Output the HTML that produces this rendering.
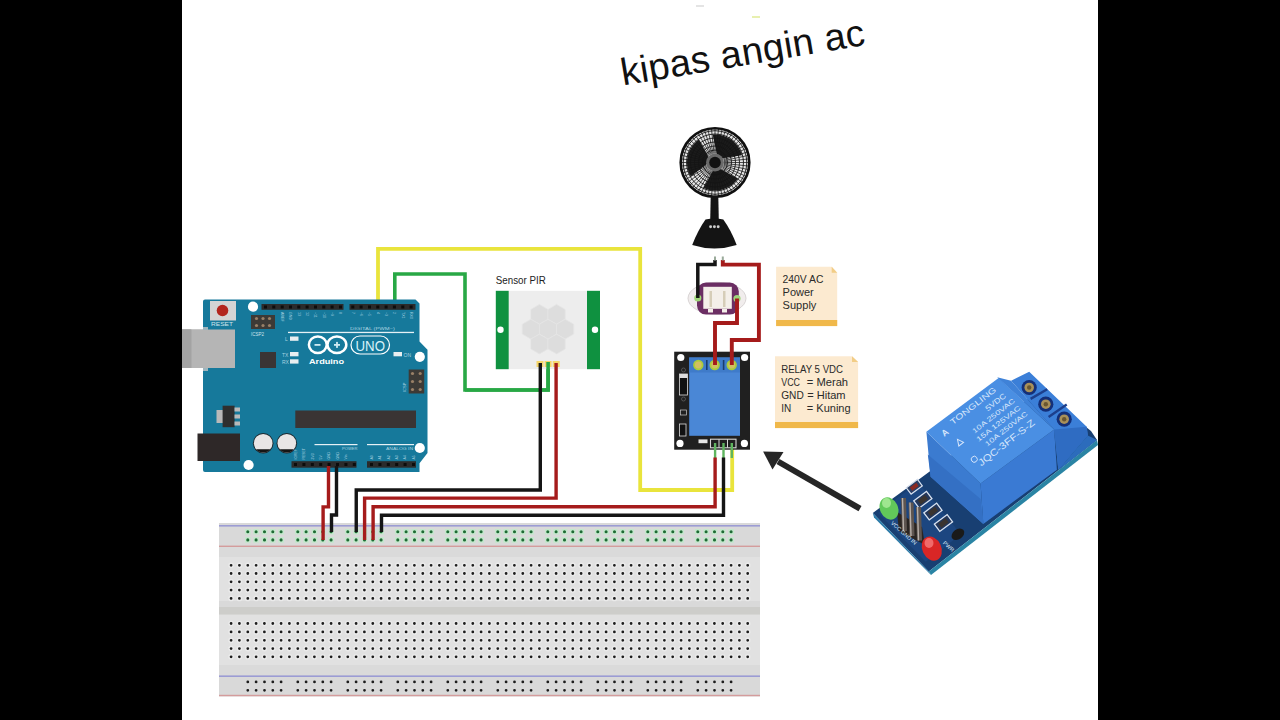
<!DOCTYPE html>
<html><head><meta charset="utf-8"><style>
html,body{margin:0;padding:0;background:#000;width:1280px;height:720px;overflow:hidden}
svg{display:block;position:absolute;left:0;top:0}
text{font-family:"Liberation Sans",sans-serif}
</style></head><body>
<svg width="1280" height="720" viewBox="0 0 1280 720">
<rect x="0" y="0" width="1280" height="720" fill="#000"/>
<rect x="182" y="0" width="916" height="720" fill="#ffffff"/>
<path d="M378 307 V248.9 H640.2 V490 H732.2 V449" fill="none" stroke="#e9e43c" stroke-width="3.8" stroke-linejoin="miter"/>
<path d="M394.8 307 V274 H465 V390 H548.1 V362" fill="none" stroke="#28a845" stroke-width="3.6"/>
<g id="bb">
<rect x="219" y="523" width="541" height="173.5" fill="#dcdcdc"/>
<rect x="219" y="523" width="541" height="24" fill="#d9d9d9"/>
<rect x="219" y="676" width="541" height="20" fill="#d9d9d9"/>
<rect x="219" y="547" width="541" height="56" fill="#e1e1e1"/>
<rect x="219" y="614.5" width="541" height="61" fill="#e1e1e1"/>
<rect x="219" y="601" width="541" height="6.5" fill="#d9d9d9"/><rect x="219" y="607" width="541" height="7.5" fill="#cdcdca"/>
<rect x="219" y="547" width="541" height="10" fill="#dadada"/>
<rect x="219" y="665" width="541" height="11" fill="#dadada"/>
<rect x="219" y="525" width="541" height="1.6" fill="#9c9cd4"/>
<rect x="219" y="545.6" width="541" height="1.4" fill="#d49c9c"/>
<rect x="219" y="675.4" width="541" height="1.6" fill="#9c9cd4"/>
<rect x="219" y="694.8" width="541" height="1.4" fill="#d49c9c"/>
<path d="M231.1 565.3h0M239.4 565.3h0M247.8 565.3h0M256.1 565.3h0M264.4 565.3h0M272.8 565.3h0M281.1 565.3h0M289.4 565.3h0M297.8 565.3h0M306.1 565.3h0M314.4 565.3h0M322.8 565.3h0M331.1 565.3h0M339.4 565.3h0M347.8 565.3h0M356.1 565.3h0M364.4 565.3h0M372.8 565.3h0M381.1 565.3h0M389.4 565.3h0M397.8 565.3h0M406.1 565.3h0M414.4 565.3h0M422.8 565.3h0M431.1 565.3h0M439.4 565.3h0M447.8 565.3h0M456.1 565.3h0M464.4 565.3h0M472.8 565.3h0M481.1 565.3h0M489.4 565.3h0M497.8 565.3h0M506.1 565.3h0M514.4 565.3h0M522.8 565.3h0M531.1 565.3h0M539.4 565.3h0M547.8 565.3h0M556.1 565.3h0M564.4 565.3h0M572.8 565.3h0M581.1 565.3h0M589.4 565.3h0M597.8 565.3h0M606.1 565.3h0M614.4 565.3h0M622.8 565.3h0M631.1 565.3h0M639.4 565.3h0M647.8 565.3h0M656.1 565.3h0M664.4 565.3h0M672.7 565.3h0M681.1 565.3h0M689.4 565.3h0M697.7 565.3h0M706.1 565.3h0M714.4 565.3h0M722.7 565.3h0M731.1 565.3h0M739.4 565.3h0M747.7 565.3h0M231.1 573.5h0M239.4 573.5h0M247.8 573.5h0M256.1 573.5h0M264.4 573.5h0M272.8 573.5h0M281.1 573.5h0M289.4 573.5h0M297.8 573.5h0M306.1 573.5h0M314.4 573.5h0M322.8 573.5h0M331.1 573.5h0M339.4 573.5h0M347.8 573.5h0M356.1 573.5h0M364.4 573.5h0M372.8 573.5h0M381.1 573.5h0M389.4 573.5h0M397.8 573.5h0M406.1 573.5h0M414.4 573.5h0M422.8 573.5h0M431.1 573.5h0M439.4 573.5h0M447.8 573.5h0M456.1 573.5h0M464.4 573.5h0M472.8 573.5h0M481.1 573.5h0M489.4 573.5h0M497.8 573.5h0M506.1 573.5h0M514.4 573.5h0M522.8 573.5h0M531.1 573.5h0M539.4 573.5h0M547.8 573.5h0M556.1 573.5h0M564.4 573.5h0M572.8 573.5h0M581.1 573.5h0M589.4 573.5h0M597.8 573.5h0M606.1 573.5h0M614.4 573.5h0M622.8 573.5h0M631.1 573.5h0M639.4 573.5h0M647.8 573.5h0M656.1 573.5h0M664.4 573.5h0M672.7 573.5h0M681.1 573.5h0M689.4 573.5h0M697.7 573.5h0M706.1 573.5h0M714.4 573.5h0M722.7 573.5h0M731.1 573.5h0M739.4 573.5h0M747.7 573.5h0M231.1 581.8h0M239.4 581.8h0M247.8 581.8h0M256.1 581.8h0M264.4 581.8h0M272.8 581.8h0M281.1 581.8h0M289.4 581.8h0M297.8 581.8h0M306.1 581.8h0M314.4 581.8h0M322.8 581.8h0M331.1 581.8h0M339.4 581.8h0M347.8 581.8h0M356.1 581.8h0M364.4 581.8h0M372.8 581.8h0M381.1 581.8h0M389.4 581.8h0M397.8 581.8h0M406.1 581.8h0M414.4 581.8h0M422.8 581.8h0M431.1 581.8h0M439.4 581.8h0M447.8 581.8h0M456.1 581.8h0M464.4 581.8h0M472.8 581.8h0M481.1 581.8h0M489.4 581.8h0M497.8 581.8h0M506.1 581.8h0M514.4 581.8h0M522.8 581.8h0M531.1 581.8h0M539.4 581.8h0M547.8 581.8h0M556.1 581.8h0M564.4 581.8h0M572.8 581.8h0M581.1 581.8h0M589.4 581.8h0M597.8 581.8h0M606.1 581.8h0M614.4 581.8h0M622.8 581.8h0M631.1 581.8h0M639.4 581.8h0M647.8 581.8h0M656.1 581.8h0M664.4 581.8h0M672.7 581.8h0M681.1 581.8h0M689.4 581.8h0M697.7 581.8h0M706.1 581.8h0M714.4 581.8h0M722.7 581.8h0M731.1 581.8h0M739.4 581.8h0M747.7 581.8h0M231.1 590.1h0M239.4 590.1h0M247.8 590.1h0M256.1 590.1h0M264.4 590.1h0M272.8 590.1h0M281.1 590.1h0M289.4 590.1h0M297.8 590.1h0M306.1 590.1h0M314.4 590.1h0M322.8 590.1h0M331.1 590.1h0M339.4 590.1h0M347.8 590.1h0M356.1 590.1h0M364.4 590.1h0M372.8 590.1h0M381.1 590.1h0M389.4 590.1h0M397.8 590.1h0M406.1 590.1h0M414.4 590.1h0M422.8 590.1h0M431.1 590.1h0M439.4 590.1h0M447.8 590.1h0M456.1 590.1h0M464.4 590.1h0M472.8 590.1h0M481.1 590.1h0M489.4 590.1h0M497.8 590.1h0M506.1 590.1h0M514.4 590.1h0M522.8 590.1h0M531.1 590.1h0M539.4 590.1h0M547.8 590.1h0M556.1 590.1h0M564.4 590.1h0M572.8 590.1h0M581.1 590.1h0M589.4 590.1h0M597.8 590.1h0M606.1 590.1h0M614.4 590.1h0M622.8 590.1h0M631.1 590.1h0M639.4 590.1h0M647.8 590.1h0M656.1 590.1h0M664.4 590.1h0M672.7 590.1h0M681.1 590.1h0M689.4 590.1h0M697.7 590.1h0M706.1 590.1h0M714.4 590.1h0M722.7 590.1h0M731.1 590.1h0M739.4 590.1h0M747.7 590.1h0M231.1 598.4h0M239.4 598.4h0M247.8 598.4h0M256.1 598.4h0M264.4 598.4h0M272.8 598.4h0M281.1 598.4h0M289.4 598.4h0M297.8 598.4h0M306.1 598.4h0M314.4 598.4h0M322.8 598.4h0M331.1 598.4h0M339.4 598.4h0M347.8 598.4h0M356.1 598.4h0M364.4 598.4h0M372.8 598.4h0M381.1 598.4h0M389.4 598.4h0M397.8 598.4h0M406.1 598.4h0M414.4 598.4h0M422.8 598.4h0M431.1 598.4h0M439.4 598.4h0M447.8 598.4h0M456.1 598.4h0M464.4 598.4h0M472.8 598.4h0M481.1 598.4h0M489.4 598.4h0M497.8 598.4h0M506.1 598.4h0M514.4 598.4h0M522.8 598.4h0M531.1 598.4h0M539.4 598.4h0M547.8 598.4h0M556.1 598.4h0M564.4 598.4h0M572.8 598.4h0M581.1 598.4h0M589.4 598.4h0M597.8 598.4h0M606.1 598.4h0M614.4 598.4h0M622.8 598.4h0M631.1 598.4h0M639.4 598.4h0M647.8 598.4h0M656.1 598.4h0M664.4 598.4h0M672.7 598.4h0M681.1 598.4h0M689.4 598.4h0M697.7 598.4h0M706.1 598.4h0M714.4 598.4h0M722.7 598.4h0M731.1 598.4h0M739.4 598.4h0M747.7 598.4h0M231.1 623.5h0M239.4 623.5h0M247.8 623.5h0M256.1 623.5h0M264.4 623.5h0M272.8 623.5h0M281.1 623.5h0M289.4 623.5h0M297.8 623.5h0M306.1 623.5h0M314.4 623.5h0M322.8 623.5h0M331.1 623.5h0M339.4 623.5h0M347.8 623.5h0M356.1 623.5h0M364.4 623.5h0M372.8 623.5h0M381.1 623.5h0M389.4 623.5h0M397.8 623.5h0M406.1 623.5h0M414.4 623.5h0M422.8 623.5h0M431.1 623.5h0M439.4 623.5h0M447.8 623.5h0M456.1 623.5h0M464.4 623.5h0M472.8 623.5h0M481.1 623.5h0M489.4 623.5h0M497.8 623.5h0M506.1 623.5h0M514.4 623.5h0M522.8 623.5h0M531.1 623.5h0M539.4 623.5h0M547.8 623.5h0M556.1 623.5h0M564.4 623.5h0M572.8 623.5h0M581.1 623.5h0M589.4 623.5h0M597.8 623.5h0M606.1 623.5h0M614.4 623.5h0M622.8 623.5h0M631.1 623.5h0M639.4 623.5h0M647.8 623.5h0M656.1 623.5h0M664.4 623.5h0M672.7 623.5h0M681.1 623.5h0M689.4 623.5h0M697.7 623.5h0M706.1 623.5h0M714.4 623.5h0M722.7 623.5h0M731.1 623.5h0M739.4 623.5h0M747.7 623.5h0M231.1 631.9h0M239.4 631.9h0M247.8 631.9h0M256.1 631.9h0M264.4 631.9h0M272.8 631.9h0M281.1 631.9h0M289.4 631.9h0M297.8 631.9h0M306.1 631.9h0M314.4 631.9h0M322.8 631.9h0M331.1 631.9h0M339.4 631.9h0M347.8 631.9h0M356.1 631.9h0M364.4 631.9h0M372.8 631.9h0M381.1 631.9h0M389.4 631.9h0M397.8 631.9h0M406.1 631.9h0M414.4 631.9h0M422.8 631.9h0M431.1 631.9h0M439.4 631.9h0M447.8 631.9h0M456.1 631.9h0M464.4 631.9h0M472.8 631.9h0M481.1 631.9h0M489.4 631.9h0M497.8 631.9h0M506.1 631.9h0M514.4 631.9h0M522.8 631.9h0M531.1 631.9h0M539.4 631.9h0M547.8 631.9h0M556.1 631.9h0M564.4 631.9h0M572.8 631.9h0M581.1 631.9h0M589.4 631.9h0M597.8 631.9h0M606.1 631.9h0M614.4 631.9h0M622.8 631.9h0M631.1 631.9h0M639.4 631.9h0M647.8 631.9h0M656.1 631.9h0M664.4 631.9h0M672.7 631.9h0M681.1 631.9h0M689.4 631.9h0M697.7 631.9h0M706.1 631.9h0M714.4 631.9h0M722.7 631.9h0M731.1 631.9h0M739.4 631.9h0M747.7 631.9h0M231.1 640.3h0M239.4 640.3h0M247.8 640.3h0M256.1 640.3h0M264.4 640.3h0M272.8 640.3h0M281.1 640.3h0M289.4 640.3h0M297.8 640.3h0M306.1 640.3h0M314.4 640.3h0M322.8 640.3h0M331.1 640.3h0M339.4 640.3h0M347.8 640.3h0M356.1 640.3h0M364.4 640.3h0M372.8 640.3h0M381.1 640.3h0M389.4 640.3h0M397.8 640.3h0M406.1 640.3h0M414.4 640.3h0M422.8 640.3h0M431.1 640.3h0M439.4 640.3h0M447.8 640.3h0M456.1 640.3h0M464.4 640.3h0M472.8 640.3h0M481.1 640.3h0M489.4 640.3h0M497.8 640.3h0M506.1 640.3h0M514.4 640.3h0M522.8 640.3h0M531.1 640.3h0M539.4 640.3h0M547.8 640.3h0M556.1 640.3h0M564.4 640.3h0M572.8 640.3h0M581.1 640.3h0M589.4 640.3h0M597.8 640.3h0M606.1 640.3h0M614.4 640.3h0M622.8 640.3h0M631.1 640.3h0M639.4 640.3h0M647.8 640.3h0M656.1 640.3h0M664.4 640.3h0M672.7 640.3h0M681.1 640.3h0M689.4 640.3h0M697.7 640.3h0M706.1 640.3h0M714.4 640.3h0M722.7 640.3h0M731.1 640.3h0M739.4 640.3h0M747.7 640.3h0M231.1 648.6h0M239.4 648.6h0M247.8 648.6h0M256.1 648.6h0M264.4 648.6h0M272.8 648.6h0M281.1 648.6h0M289.4 648.6h0M297.8 648.6h0M306.1 648.6h0M314.4 648.6h0M322.8 648.6h0M331.1 648.6h0M339.4 648.6h0M347.8 648.6h0M356.1 648.6h0M364.4 648.6h0M372.8 648.6h0M381.1 648.6h0M389.4 648.6h0M397.8 648.6h0M406.1 648.6h0M414.4 648.6h0M422.8 648.6h0M431.1 648.6h0M439.4 648.6h0M447.8 648.6h0M456.1 648.6h0M464.4 648.6h0M472.8 648.6h0M481.1 648.6h0M489.4 648.6h0M497.8 648.6h0M506.1 648.6h0M514.4 648.6h0M522.8 648.6h0M531.1 648.6h0M539.4 648.6h0M547.8 648.6h0M556.1 648.6h0M564.4 648.6h0M572.8 648.6h0M581.1 648.6h0M589.4 648.6h0M597.8 648.6h0M606.1 648.6h0M614.4 648.6h0M622.8 648.6h0M631.1 648.6h0M639.4 648.6h0M647.8 648.6h0M656.1 648.6h0M664.4 648.6h0M672.7 648.6h0M681.1 648.6h0M689.4 648.6h0M697.7 648.6h0M706.1 648.6h0M714.4 648.6h0M722.7 648.6h0M731.1 648.6h0M739.4 648.6h0M747.7 648.6h0M231.1 656.8h0M239.4 656.8h0M247.8 656.8h0M256.1 656.8h0M264.4 656.8h0M272.8 656.8h0M281.1 656.8h0M289.4 656.8h0M297.8 656.8h0M306.1 656.8h0M314.4 656.8h0M322.8 656.8h0M331.1 656.8h0M339.4 656.8h0M347.8 656.8h0M356.1 656.8h0M364.4 656.8h0M372.8 656.8h0M381.1 656.8h0M389.4 656.8h0M397.8 656.8h0M406.1 656.8h0M414.4 656.8h0M422.8 656.8h0M431.1 656.8h0M439.4 656.8h0M447.8 656.8h0M456.1 656.8h0M464.4 656.8h0M472.8 656.8h0M481.1 656.8h0M489.4 656.8h0M497.8 656.8h0M506.1 656.8h0M514.4 656.8h0M522.8 656.8h0M531.1 656.8h0M539.4 656.8h0M547.8 656.8h0M556.1 656.8h0M564.4 656.8h0M572.8 656.8h0M581.1 656.8h0M589.4 656.8h0M597.8 656.8h0M606.1 656.8h0M614.4 656.8h0M622.8 656.8h0M631.1 656.8h0M639.4 656.8h0M647.8 656.8h0M656.1 656.8h0M664.4 656.8h0M672.7 656.8h0M681.1 656.8h0M689.4 656.8h0M697.7 656.8h0M706.1 656.8h0M714.4 656.8h0M722.7 656.8h0M731.1 656.8h0M739.4 656.8h0M747.7 656.8h0" stroke="#ebebeb" stroke-width="5.6" stroke-linecap="round"/>
<path d="M231.1 565.3h0M239.4 565.3h0M247.8 565.3h0M256.1 565.3h0M264.4 565.3h0M272.8 565.3h0M281.1 565.3h0M289.4 565.3h0M297.8 565.3h0M306.1 565.3h0M314.4 565.3h0M322.8 565.3h0M331.1 565.3h0M339.4 565.3h0M347.8 565.3h0M356.1 565.3h0M364.4 565.3h0M372.8 565.3h0M381.1 565.3h0M389.4 565.3h0M397.8 565.3h0M406.1 565.3h0M414.4 565.3h0M422.8 565.3h0M431.1 565.3h0M439.4 565.3h0M447.8 565.3h0M456.1 565.3h0M464.4 565.3h0M472.8 565.3h0M481.1 565.3h0M489.4 565.3h0M497.8 565.3h0M506.1 565.3h0M514.4 565.3h0M522.8 565.3h0M531.1 565.3h0M539.4 565.3h0M547.8 565.3h0M556.1 565.3h0M564.4 565.3h0M572.8 565.3h0M581.1 565.3h0M589.4 565.3h0M597.8 565.3h0M606.1 565.3h0M614.4 565.3h0M622.8 565.3h0M631.1 565.3h0M639.4 565.3h0M647.8 565.3h0M656.1 565.3h0M664.4 565.3h0M672.7 565.3h0M681.1 565.3h0M689.4 565.3h0M697.7 565.3h0M706.1 565.3h0M714.4 565.3h0M722.7 565.3h0M731.1 565.3h0M739.4 565.3h0M747.7 565.3h0M231.1 573.5h0M239.4 573.5h0M247.8 573.5h0M256.1 573.5h0M264.4 573.5h0M272.8 573.5h0M281.1 573.5h0M289.4 573.5h0M297.8 573.5h0M306.1 573.5h0M314.4 573.5h0M322.8 573.5h0M331.1 573.5h0M339.4 573.5h0M347.8 573.5h0M356.1 573.5h0M364.4 573.5h0M372.8 573.5h0M381.1 573.5h0M389.4 573.5h0M397.8 573.5h0M406.1 573.5h0M414.4 573.5h0M422.8 573.5h0M431.1 573.5h0M439.4 573.5h0M447.8 573.5h0M456.1 573.5h0M464.4 573.5h0M472.8 573.5h0M481.1 573.5h0M489.4 573.5h0M497.8 573.5h0M506.1 573.5h0M514.4 573.5h0M522.8 573.5h0M531.1 573.5h0M539.4 573.5h0M547.8 573.5h0M556.1 573.5h0M564.4 573.5h0M572.8 573.5h0M581.1 573.5h0M589.4 573.5h0M597.8 573.5h0M606.1 573.5h0M614.4 573.5h0M622.8 573.5h0M631.1 573.5h0M639.4 573.5h0M647.8 573.5h0M656.1 573.5h0M664.4 573.5h0M672.7 573.5h0M681.1 573.5h0M689.4 573.5h0M697.7 573.5h0M706.1 573.5h0M714.4 573.5h0M722.7 573.5h0M731.1 573.5h0M739.4 573.5h0M747.7 573.5h0M231.1 581.8h0M239.4 581.8h0M247.8 581.8h0M256.1 581.8h0M264.4 581.8h0M272.8 581.8h0M281.1 581.8h0M289.4 581.8h0M297.8 581.8h0M306.1 581.8h0M314.4 581.8h0M322.8 581.8h0M331.1 581.8h0M339.4 581.8h0M347.8 581.8h0M356.1 581.8h0M364.4 581.8h0M372.8 581.8h0M381.1 581.8h0M389.4 581.8h0M397.8 581.8h0M406.1 581.8h0M414.4 581.8h0M422.8 581.8h0M431.1 581.8h0M439.4 581.8h0M447.8 581.8h0M456.1 581.8h0M464.4 581.8h0M472.8 581.8h0M481.1 581.8h0M489.4 581.8h0M497.8 581.8h0M506.1 581.8h0M514.4 581.8h0M522.8 581.8h0M531.1 581.8h0M539.4 581.8h0M547.8 581.8h0M556.1 581.8h0M564.4 581.8h0M572.8 581.8h0M581.1 581.8h0M589.4 581.8h0M597.8 581.8h0M606.1 581.8h0M614.4 581.8h0M622.8 581.8h0M631.1 581.8h0M639.4 581.8h0M647.8 581.8h0M656.1 581.8h0M664.4 581.8h0M672.7 581.8h0M681.1 581.8h0M689.4 581.8h0M697.7 581.8h0M706.1 581.8h0M714.4 581.8h0M722.7 581.8h0M731.1 581.8h0M739.4 581.8h0M747.7 581.8h0M231.1 590.1h0M239.4 590.1h0M247.8 590.1h0M256.1 590.1h0M264.4 590.1h0M272.8 590.1h0M281.1 590.1h0M289.4 590.1h0M297.8 590.1h0M306.1 590.1h0M314.4 590.1h0M322.8 590.1h0M331.1 590.1h0M339.4 590.1h0M347.8 590.1h0M356.1 590.1h0M364.4 590.1h0M372.8 590.1h0M381.1 590.1h0M389.4 590.1h0M397.8 590.1h0M406.1 590.1h0M414.4 590.1h0M422.8 590.1h0M431.1 590.1h0M439.4 590.1h0M447.8 590.1h0M456.1 590.1h0M464.4 590.1h0M472.8 590.1h0M481.1 590.1h0M489.4 590.1h0M497.8 590.1h0M506.1 590.1h0M514.4 590.1h0M522.8 590.1h0M531.1 590.1h0M539.4 590.1h0M547.8 590.1h0M556.1 590.1h0M564.4 590.1h0M572.8 590.1h0M581.1 590.1h0M589.4 590.1h0M597.8 590.1h0M606.1 590.1h0M614.4 590.1h0M622.8 590.1h0M631.1 590.1h0M639.4 590.1h0M647.8 590.1h0M656.1 590.1h0M664.4 590.1h0M672.7 590.1h0M681.1 590.1h0M689.4 590.1h0M697.7 590.1h0M706.1 590.1h0M714.4 590.1h0M722.7 590.1h0M731.1 590.1h0M739.4 590.1h0M747.7 590.1h0M231.1 598.4h0M239.4 598.4h0M247.8 598.4h0M256.1 598.4h0M264.4 598.4h0M272.8 598.4h0M281.1 598.4h0M289.4 598.4h0M297.8 598.4h0M306.1 598.4h0M314.4 598.4h0M322.8 598.4h0M331.1 598.4h0M339.4 598.4h0M347.8 598.4h0M356.1 598.4h0M364.4 598.4h0M372.8 598.4h0M381.1 598.4h0M389.4 598.4h0M397.8 598.4h0M406.1 598.4h0M414.4 598.4h0M422.8 598.4h0M431.1 598.4h0M439.4 598.4h0M447.8 598.4h0M456.1 598.4h0M464.4 598.4h0M472.8 598.4h0M481.1 598.4h0M489.4 598.4h0M497.8 598.4h0M506.1 598.4h0M514.4 598.4h0M522.8 598.4h0M531.1 598.4h0M539.4 598.4h0M547.8 598.4h0M556.1 598.4h0M564.4 598.4h0M572.8 598.4h0M581.1 598.4h0M589.4 598.4h0M597.8 598.4h0M606.1 598.4h0M614.4 598.4h0M622.8 598.4h0M631.1 598.4h0M639.4 598.4h0M647.8 598.4h0M656.1 598.4h0M664.4 598.4h0M672.7 598.4h0M681.1 598.4h0M689.4 598.4h0M697.7 598.4h0M706.1 598.4h0M714.4 598.4h0M722.7 598.4h0M731.1 598.4h0M739.4 598.4h0M747.7 598.4h0M231.1 623.5h0M239.4 623.5h0M247.8 623.5h0M256.1 623.5h0M264.4 623.5h0M272.8 623.5h0M281.1 623.5h0M289.4 623.5h0M297.8 623.5h0M306.1 623.5h0M314.4 623.5h0M322.8 623.5h0M331.1 623.5h0M339.4 623.5h0M347.8 623.5h0M356.1 623.5h0M364.4 623.5h0M372.8 623.5h0M381.1 623.5h0M389.4 623.5h0M397.8 623.5h0M406.1 623.5h0M414.4 623.5h0M422.8 623.5h0M431.1 623.5h0M439.4 623.5h0M447.8 623.5h0M456.1 623.5h0M464.4 623.5h0M472.8 623.5h0M481.1 623.5h0M489.4 623.5h0M497.8 623.5h0M506.1 623.5h0M514.4 623.5h0M522.8 623.5h0M531.1 623.5h0M539.4 623.5h0M547.8 623.5h0M556.1 623.5h0M564.4 623.5h0M572.8 623.5h0M581.1 623.5h0M589.4 623.5h0M597.8 623.5h0M606.1 623.5h0M614.4 623.5h0M622.8 623.5h0M631.1 623.5h0M639.4 623.5h0M647.8 623.5h0M656.1 623.5h0M664.4 623.5h0M672.7 623.5h0M681.1 623.5h0M689.4 623.5h0M697.7 623.5h0M706.1 623.5h0M714.4 623.5h0M722.7 623.5h0M731.1 623.5h0M739.4 623.5h0M747.7 623.5h0M231.1 631.9h0M239.4 631.9h0M247.8 631.9h0M256.1 631.9h0M264.4 631.9h0M272.8 631.9h0M281.1 631.9h0M289.4 631.9h0M297.8 631.9h0M306.1 631.9h0M314.4 631.9h0M322.8 631.9h0M331.1 631.9h0M339.4 631.9h0M347.8 631.9h0M356.1 631.9h0M364.4 631.9h0M372.8 631.9h0M381.1 631.9h0M389.4 631.9h0M397.8 631.9h0M406.1 631.9h0M414.4 631.9h0M422.8 631.9h0M431.1 631.9h0M439.4 631.9h0M447.8 631.9h0M456.1 631.9h0M464.4 631.9h0M472.8 631.9h0M481.1 631.9h0M489.4 631.9h0M497.8 631.9h0M506.1 631.9h0M514.4 631.9h0M522.8 631.9h0M531.1 631.9h0M539.4 631.9h0M547.8 631.9h0M556.1 631.9h0M564.4 631.9h0M572.8 631.9h0M581.1 631.9h0M589.4 631.9h0M597.8 631.9h0M606.1 631.9h0M614.4 631.9h0M622.8 631.9h0M631.1 631.9h0M639.4 631.9h0M647.8 631.9h0M656.1 631.9h0M664.4 631.9h0M672.7 631.9h0M681.1 631.9h0M689.4 631.9h0M697.7 631.9h0M706.1 631.9h0M714.4 631.9h0M722.7 631.9h0M731.1 631.9h0M739.4 631.9h0M747.7 631.9h0M231.1 640.3h0M239.4 640.3h0M247.8 640.3h0M256.1 640.3h0M264.4 640.3h0M272.8 640.3h0M281.1 640.3h0M289.4 640.3h0M297.8 640.3h0M306.1 640.3h0M314.4 640.3h0M322.8 640.3h0M331.1 640.3h0M339.4 640.3h0M347.8 640.3h0M356.1 640.3h0M364.4 640.3h0M372.8 640.3h0M381.1 640.3h0M389.4 640.3h0M397.8 640.3h0M406.1 640.3h0M414.4 640.3h0M422.8 640.3h0M431.1 640.3h0M439.4 640.3h0M447.8 640.3h0M456.1 640.3h0M464.4 640.3h0M472.8 640.3h0M481.1 640.3h0M489.4 640.3h0M497.8 640.3h0M506.1 640.3h0M514.4 640.3h0M522.8 640.3h0M531.1 640.3h0M539.4 640.3h0M547.8 640.3h0M556.1 640.3h0M564.4 640.3h0M572.8 640.3h0M581.1 640.3h0M589.4 640.3h0M597.8 640.3h0M606.1 640.3h0M614.4 640.3h0M622.8 640.3h0M631.1 640.3h0M639.4 640.3h0M647.8 640.3h0M656.1 640.3h0M664.4 640.3h0M672.7 640.3h0M681.1 640.3h0M689.4 640.3h0M697.7 640.3h0M706.1 640.3h0M714.4 640.3h0M722.7 640.3h0M731.1 640.3h0M739.4 640.3h0M747.7 640.3h0M231.1 648.6h0M239.4 648.6h0M247.8 648.6h0M256.1 648.6h0M264.4 648.6h0M272.8 648.6h0M281.1 648.6h0M289.4 648.6h0M297.8 648.6h0M306.1 648.6h0M314.4 648.6h0M322.8 648.6h0M331.1 648.6h0M339.4 648.6h0M347.8 648.6h0M356.1 648.6h0M364.4 648.6h0M372.8 648.6h0M381.1 648.6h0M389.4 648.6h0M397.8 648.6h0M406.1 648.6h0M414.4 648.6h0M422.8 648.6h0M431.1 648.6h0M439.4 648.6h0M447.8 648.6h0M456.1 648.6h0M464.4 648.6h0M472.8 648.6h0M481.1 648.6h0M489.4 648.6h0M497.8 648.6h0M506.1 648.6h0M514.4 648.6h0M522.8 648.6h0M531.1 648.6h0M539.4 648.6h0M547.8 648.6h0M556.1 648.6h0M564.4 648.6h0M572.8 648.6h0M581.1 648.6h0M589.4 648.6h0M597.8 648.6h0M606.1 648.6h0M614.4 648.6h0M622.8 648.6h0M631.1 648.6h0M639.4 648.6h0M647.8 648.6h0M656.1 648.6h0M664.4 648.6h0M672.7 648.6h0M681.1 648.6h0M689.4 648.6h0M697.7 648.6h0M706.1 648.6h0M714.4 648.6h0M722.7 648.6h0M731.1 648.6h0M739.4 648.6h0M747.7 648.6h0M231.1 656.8h0M239.4 656.8h0M247.8 656.8h0M256.1 656.8h0M264.4 656.8h0M272.8 656.8h0M281.1 656.8h0M289.4 656.8h0M297.8 656.8h0M306.1 656.8h0M314.4 656.8h0M322.8 656.8h0M331.1 656.8h0M339.4 656.8h0M347.8 656.8h0M356.1 656.8h0M364.4 656.8h0M372.8 656.8h0M381.1 656.8h0M389.4 656.8h0M397.8 656.8h0M406.1 656.8h0M414.4 656.8h0M422.8 656.8h0M431.1 656.8h0M439.4 656.8h0M447.8 656.8h0M456.1 656.8h0M464.4 656.8h0M472.8 656.8h0M481.1 656.8h0M489.4 656.8h0M497.8 656.8h0M506.1 656.8h0M514.4 656.8h0M522.8 656.8h0M531.1 656.8h0M539.4 656.8h0M547.8 656.8h0M556.1 656.8h0M564.4 656.8h0M572.8 656.8h0M581.1 656.8h0M589.4 656.8h0M597.8 656.8h0M606.1 656.8h0M614.4 656.8h0M622.8 656.8h0M631.1 656.8h0M639.4 656.8h0M647.8 656.8h0M656.1 656.8h0M664.4 656.8h0M672.7 656.8h0M681.1 656.8h0M689.4 656.8h0M697.7 656.8h0M706.1 656.8h0M714.4 656.8h0M722.7 656.8h0M731.1 656.8h0M739.4 656.8h0M747.7 656.8h0" stroke="#1d1d1d" stroke-width="2.8" stroke-linecap="round"/>
<path d="M247.8 531.8h0M247.8 539.9h0M256.1 531.8h0M256.1 539.9h0M264.5 531.8h0M264.5 539.9h0M272.8 531.8h0M272.8 539.9h0M281.1 531.8h0M281.1 539.9h0M297.8 531.8h0M297.8 539.9h0M306.1 531.8h0M306.1 539.9h0M314.5 531.8h0M314.5 539.9h0M322.8 531.8h0M322.8 539.9h0M331.1 531.8h0M331.1 539.9h0M347.8 531.8h0M347.8 539.9h0M356.1 531.8h0M356.1 539.9h0M364.5 531.8h0M364.5 539.9h0M372.8 531.8h0M372.8 539.9h0M381.1 531.8h0M381.1 539.9h0M397.8 531.8h0M397.8 539.9h0M406.1 531.8h0M406.1 539.9h0M414.5 531.8h0M414.5 539.9h0M422.8 531.8h0M422.8 539.9h0M431.1 531.8h0M431.1 539.9h0M447.8 531.8h0M447.8 539.9h0M456.1 531.8h0M456.1 539.9h0M464.5 531.8h0M464.5 539.9h0M472.8 531.8h0M472.8 539.9h0M481.1 531.8h0M481.1 539.9h0M497.8 531.8h0M497.8 539.9h0M506.1 531.8h0M506.1 539.9h0M514.5 531.8h0M514.5 539.9h0M522.8 531.8h0M522.8 539.9h0M531.1 531.8h0M531.1 539.9h0M547.8 531.8h0M547.8 539.9h0M556.1 531.8h0M556.1 539.9h0M564.5 531.8h0M564.5 539.9h0M572.8 531.8h0M572.8 539.9h0M581.1 531.8h0M581.1 539.9h0M597.8 531.8h0M597.8 539.9h0M606.1 531.8h0M606.1 539.9h0M614.5 531.8h0M614.5 539.9h0M622.8 531.8h0M622.8 539.9h0M631.1 531.8h0M631.1 539.9h0M647.8 531.8h0M647.8 539.9h0M656.1 531.8h0M656.1 539.9h0M664.5 531.8h0M664.5 539.9h0M672.8 531.8h0M672.8 539.9h0M681.1 531.8h0M681.1 539.9h0M697.8 531.8h0M697.8 539.9h0M706.1 531.8h0M706.1 539.9h0M714.5 531.8h0M714.5 539.9h0M722.8 531.8h0M722.8 539.9h0M731.1 531.8h0M731.1 539.9h0" stroke="#c4e8cc" stroke-width="5.6" stroke-linecap="square"/>
<path d="M247.8 531.8h0M247.8 539.9h0M256.1 531.8h0M256.1 539.9h0M264.5 531.8h0M264.5 539.9h0M272.8 531.8h0M272.8 539.9h0M281.1 531.8h0M281.1 539.9h0M297.8 531.8h0M297.8 539.9h0M306.1 531.8h0M306.1 539.9h0M314.5 531.8h0M314.5 539.9h0M322.8 531.8h0M322.8 539.9h0M331.1 531.8h0M331.1 539.9h0M347.8 531.8h0M347.8 539.9h0M356.1 531.8h0M356.1 539.9h0M364.5 531.8h0M364.5 539.9h0M372.8 531.8h0M372.8 539.9h0M381.1 531.8h0M381.1 539.9h0M397.8 531.8h0M397.8 539.9h0M406.1 531.8h0M406.1 539.9h0M414.5 531.8h0M414.5 539.9h0M422.8 531.8h0M422.8 539.9h0M431.1 531.8h0M431.1 539.9h0M447.8 531.8h0M447.8 539.9h0M456.1 531.8h0M456.1 539.9h0M464.5 531.8h0M464.5 539.9h0M472.8 531.8h0M472.8 539.9h0M481.1 531.8h0M481.1 539.9h0M497.8 531.8h0M497.8 539.9h0M506.1 531.8h0M506.1 539.9h0M514.5 531.8h0M514.5 539.9h0M522.8 531.8h0M522.8 539.9h0M531.1 531.8h0M531.1 539.9h0M547.8 531.8h0M547.8 539.9h0M556.1 531.8h0M556.1 539.9h0M564.5 531.8h0M564.5 539.9h0M572.8 531.8h0M572.8 539.9h0M581.1 531.8h0M581.1 539.9h0M597.8 531.8h0M597.8 539.9h0M606.1 531.8h0M606.1 539.9h0M614.5 531.8h0M614.5 539.9h0M622.8 531.8h0M622.8 539.9h0M631.1 531.8h0M631.1 539.9h0M647.8 531.8h0M647.8 539.9h0M656.1 531.8h0M656.1 539.9h0M664.5 531.8h0M664.5 539.9h0M672.8 531.8h0M672.8 539.9h0M681.1 531.8h0M681.1 539.9h0M697.8 531.8h0M697.8 539.9h0M706.1 531.8h0M706.1 539.9h0M714.5 531.8h0M714.5 539.9h0M722.8 531.8h0M722.8 539.9h0M731.1 531.8h0M731.1 539.9h0" stroke="#1f6b35" stroke-width="3.1" stroke-linecap="round"/>
<path d="M247.8 681.9h0M247.8 690.3h0M256.1 681.9h0M256.1 690.3h0M264.5 681.9h0M264.5 690.3h0M272.8 681.9h0M272.8 690.3h0M281.1 681.9h0M281.1 690.3h0M297.8 681.9h0M297.8 690.3h0M306.1 681.9h0M306.1 690.3h0M314.5 681.9h0M314.5 690.3h0M322.8 681.9h0M322.8 690.3h0M331.1 681.9h0M331.1 690.3h0M347.8 681.9h0M347.8 690.3h0M356.1 681.9h0M356.1 690.3h0M364.5 681.9h0M364.5 690.3h0M372.8 681.9h0M372.8 690.3h0M381.1 681.9h0M381.1 690.3h0M397.8 681.9h0M397.8 690.3h0M406.1 681.9h0M406.1 690.3h0M414.5 681.9h0M414.5 690.3h0M422.8 681.9h0M422.8 690.3h0M431.1 681.9h0M431.1 690.3h0M447.8 681.9h0M447.8 690.3h0M456.1 681.9h0M456.1 690.3h0M464.5 681.9h0M464.5 690.3h0M472.8 681.9h0M472.8 690.3h0M481.1 681.9h0M481.1 690.3h0M497.8 681.9h0M497.8 690.3h0M506.1 681.9h0M506.1 690.3h0M514.5 681.9h0M514.5 690.3h0M522.8 681.9h0M522.8 690.3h0M531.1 681.9h0M531.1 690.3h0M547.8 681.9h0M547.8 690.3h0M556.1 681.9h0M556.1 690.3h0M564.5 681.9h0M564.5 690.3h0M572.8 681.9h0M572.8 690.3h0M581.1 681.9h0M581.1 690.3h0M597.8 681.9h0M597.8 690.3h0M606.1 681.9h0M606.1 690.3h0M614.5 681.9h0M614.5 690.3h0M622.8 681.9h0M622.8 690.3h0M631.1 681.9h0M631.1 690.3h0M647.8 681.9h0M647.8 690.3h0M656.1 681.9h0M656.1 690.3h0M664.5 681.9h0M664.5 690.3h0M672.8 681.9h0M672.8 690.3h0M681.1 681.9h0M681.1 690.3h0M697.8 681.9h0M697.8 690.3h0M706.1 681.9h0M706.1 690.3h0M714.5 681.9h0M714.5 690.3h0M722.8 681.9h0M722.8 690.3h0M731.1 681.9h0M731.1 690.3h0" stroke="#1d1d1d" stroke-width="2.8" stroke-linecap="round"/>
</g>
<g id="ard">
<rect x="182" y="329.5" width="53" height="38.5" fill="#b3b3b3"/>
<rect x="182" y="329.5" width="9" height="38.5" fill="#a2a2a2"/>
<path d="M205 299.5 H415.5 L419.5 303.5 V341.5 L427.5 349.8 V453 L419.5 463.3 V472 H205 Q203 472 203 470 V301.5 Q203 299.5 205 299.5Z" fill="#16799b"/>
<rect x="182" y="329.5" width="53" height="38.5" fill="#b5b5b5"/>
<rect x="182" y="329.5" width="9.5" height="38.5" fill="#a3a3a3"/>
<rect x="203" y="327" width="5" height="3" fill="#9fb5bd"/><rect x="203" y="368" width="5" height="3" fill="#9fb5bd"/>
<rect x="210" y="301" width="26" height="19.5" fill="#d4d4d4"/>
<circle cx="222.5" cy="310.5" r="5.8" fill="#b3261e"/>
<circle cx="253" cy="306.7" r="5.1" fill="#ffffff"/>
<circle cx="419.8" cy="356.8" r="5.1" fill="#ffffff"/>
<circle cx="419.8" cy="448" r="5.1" fill="#ffffff"/>
<circle cx="248.6" cy="465" r="5.1" fill="#ffffff"/>
<rect x="261.5" y="304" width="82" height="5.8" fill="#2b2b2b"/>
<rect x="349.5" y="304" width="66" height="5.8" fill="#2b2b2b"/>
<rect x="251" y="315" width="24" height="14" fill="#3d3a36"/>
<circle cx="256.5" cy="318.5" r="1.6" fill="#9a8168"/>
<circle cx="256.5" cy="325.5" r="1.6" fill="#9a8168"/>
<circle cx="263" cy="318.5" r="1.6" fill="#9a8168"/>
<circle cx="263" cy="325.5" r="1.6" fill="#9a8168"/>
<circle cx="269.5" cy="318.5" r="1.6" fill="#9a8168"/>
<circle cx="269.5" cy="325.5" r="1.6" fill="#9a8168"/>
<text x="251" y="336" font-size="4.5" fill="#cfe3ea" font-family="Liberation Mono">ICSP2</text>
<rect x="288" y="331.8" width="126" height="1.3" fill="#e6f1f5"/>
<rect x="290" y="336.5" width="8.5" height="4.3" fill="#e8eef0"/>
<rect x="290" y="352" width="8.5" height="4.3" fill="#e8eef0"/>
<rect x="290" y="359.3" width="8.5" height="4.3" fill="#e8eef0"/>
<rect x="393.5" y="352" width="8.5" height="4.3" fill="#e8eef0"/>
<rect x="260" y="352" width="16" height="16" fill="#3a3434"/>
<g fill="none" stroke="#ffffff" stroke-width="2.5"><ellipse cx="317.8" cy="344.8" rx="8.9" ry="8.3"/><ellipse cx="336.9" cy="344.8" rx="9.4" ry="8.3"/></g>
<rect x="314.5" y="344" width="6" height="1.8" fill="#cfeaf2"/><rect x="334" y="344" width="6" height="1.8" fill="#cfeaf2"/><rect x="336.1" y="341.9" width="1.8" height="6" fill="#cfeaf2"/>
<rect x="351" y="336" width="38.5" height="18" rx="9" fill="none" stroke="#ffffff" stroke-width="1.2"/>
<text x="355.5" y="350.6" font-size="14.5" fill="#d9f1f8" font-family="Liberation Sans" textLength="29.5" lengthAdjust="spacingAndGlyphs">UNO</text>
<text x="309" y="363.5" font-size="7.2" fill="#ffffff" font-family="Liberation Mono" font-weight="bold" textLength="35" lengthAdjust="spacingAndGlyphs">Arduino</text>
<rect x="408.7" y="369.5" width="15.5" height="24" fill="#3d3a36"/>
<circle cx="412.5" cy="373.5" r="1.6" fill="#9a8168"/>
<circle cx="412.5" cy="381.5" r="1.6" fill="#9a8168"/>
<circle cx="412.5" cy="389.5" r="1.6" fill="#9a8168"/>
<circle cx="420.2" cy="373.5" r="1.6" fill="#9a8168"/>
<circle cx="420.2" cy="381.5" r="1.6" fill="#9a8168"/>
<circle cx="420.2" cy="389.5" r="1.6" fill="#9a8168"/>
<rect x="216.5" y="410" width="6.5" height="13" fill="#b9b9b9"/>
<rect x="222.6" y="405.7" width="12" height="21.5" fill="#2f2f2f"/>
<rect x="234.5" y="407.5" width="5.5" height="4" fill="#b9b9b9"/>
<rect x="234.5" y="414.5" width="5.5" height="4" fill="#b9b9b9"/>
<rect x="234.5" y="421.5" width="5.5" height="4" fill="#b9b9b9"/>
<rect x="295.3" y="410.5" width="120.7" height="17.5" fill="#3a3434"/>
<rect x="197.5" y="433.5" width="42.5" height="27.5" fill="#2e2828"/>
<circle cx="263.2" cy="443.2" r="10.3" fill="#1d2a30"/>
<circle cx="263.2" cy="443.2" r="9.3" fill="#e8e5e5"/>
<path d="M256.10 449.2 A9.3 9.3 0 0 0 270.30 449.2Z" fill="#151515"/>
<circle cx="286.8" cy="443.2" r="10.3" fill="#1d2a30"/>
<circle cx="286.8" cy="443.2" r="9.3" fill="#e8e5e5"/>
<path d="M279.70 449.2 A9.3 9.3 0 0 0 293.90 449.2Z" fill="#151515"/>
<rect x="291.5" y="461.2" width="65" height="6.5" fill="#2b2b2b"/>
<rect x="367" y="461.2" width="49" height="6.5" fill="#2b2b2b"/>
<rect x="314.5" y="444" width="43" height="1.2" fill="#e6f1f5"/><rect x="367" y="444" width="47" height="1.2" fill="#e6f1f5"/>
<g fill="#a9d3e0" font-family="Liberation Mono" font-size="3.6"><text x="211" y="325.5" font-size="4.6" fill="#cfe3ea" textLength="22" lengthAdjust="spacingAndGlyphs">RESET</text><text x="350" y="330.3" textLength="45" lengthAdjust="spacingAndGlyphs">DIGITAL (PWM~)</text><text x="285" y="340.8" font-size="5">L</text><text x="282" y="356.5" font-size="5">TX</text><text x="282" y="363.8" font-size="5">RX</text><text x="403.5" y="356.5" font-size="5">ON</text><text x="342" y="450" font-size="3.8" textLength="15.5" lengthAdjust="spacingAndGlyphs">POWER</text><text x="386" y="450" font-size="3.8" textLength="27" lengthAdjust="spacingAndGlyphs">ANALOG IN</text><text transform="translate(281.0 312) rotate(90)" font-size="3.6">AREF</text><text transform="translate(289.3 312) rotate(90)" font-size="3.6">GND</text><text transform="translate(297.6 312) rotate(90)" font-size="3.6">13</text><text transform="translate(305.9 312) rotate(90)" font-size="3.6">12</text><text transform="translate(314.3 312) rotate(90)" font-size="3.6">~11</text><text transform="translate(322.6 312) rotate(90)" font-size="3.6">~10</text><text transform="translate(330.9 312) rotate(90)" font-size="3.6">~9</text><text transform="translate(339.3 312) rotate(90)" font-size="3.6">8</text><text transform="translate(351.6 312) rotate(90)" font-size="3.6">7</text><text transform="translate(359.9 312) rotate(90)" font-size="3.6">~6</text><text transform="translate(368.3 312) rotate(90)" font-size="3.6">~5</text><text transform="translate(376.6 312) rotate(90)" font-size="3.6">4</text><text transform="translate(384.9 312) rotate(90)" font-size="3.6">~3</text><text transform="translate(393.2 312) rotate(90)" font-size="3.6">2</text><text transform="translate(401.6 312) rotate(90)" font-size="3.6">TX1</text><text transform="translate(409.9 312) rotate(90)" font-size="3.6">RX0</text><text transform="translate(296.7 459.5) rotate(-90)" font-size="3.4">IOREF</text><text transform="translate(305.1 459.5) rotate(-90)" font-size="3.4">RESET</text><text transform="translate(313.5 459.5) rotate(-90)" font-size="3.4">3V3</text><text transform="translate(321.9 459.5) rotate(-90)" font-size="3.4">5V</text><text transform="translate(330.3 459.5) rotate(-90)" font-size="3.4">GND</text><text transform="translate(338.7 459.5) rotate(-90)" font-size="3.4">GND</text><text transform="translate(347.1 459.5) rotate(-90)" font-size="3.4">Vin</text><text transform="translate(372.7 459.5) rotate(-90)" font-size="3.4">A0</text><text transform="translate(381.1 459.5) rotate(-90)" font-size="3.4">A1</text><text transform="translate(389.5 459.5) rotate(-90)" font-size="3.4">A2</text><text transform="translate(397.9 459.5) rotate(-90)" font-size="3.4">A3</text><text transform="translate(406.3 459.5) rotate(-90)" font-size="3.4">A4</text><text transform="translate(414.7 459.5) rotate(-90)" font-size="3.4">A5</text><text transform="translate(406 392) rotate(-90)" font-size="4">ICSP</text></g>
<path d="M265.5 306.9h0M273.8 306.9h0M282.2 306.9h0M290.5 306.9h0M298.8 306.9h0M307.1 306.9h0M315.5 306.9h0M323.8 306.9h0M332.1 306.9h0M340.5 306.9h0M352.8 306.9h0M361.1 306.9h0M369.5 306.9h0M377.8 306.9h0M386.1 306.9h0M394.4 306.9h0M402.8 306.9h0M411.1 306.9h0M295.5 464.4h0M303.9 464.4h0M312.3 464.4h0M320.7 464.4h0M329.1 464.4h0M337.5 464.4h0M345.9 464.4h0M354.3 464.4h0M371.5 464.4h0M379.9 464.4h0M388.3 464.4h0M396.7 464.4h0M405.1 464.4h0M413.5 464.4h0" stroke="#0c0c0c" stroke-width="3" stroke-linecap="square"/>
</g>
<text x="495.8" y="284.3" font-size="10.8" fill="#222" textLength="50" lengthAdjust="spacingAndGlyphs">Sensor PIR</text>
<rect x="508.5" y="290.8" width="78.5" height="78.4" fill="#ededed"/>
<rect x="495.8" y="290.8" width="12.9" height="78.4" fill="#0f9140"/>
<rect x="587" y="290.8" width="13" height="78.4" fill="#0f9140"/>
<circle cx="500.5" cy="329.7" r="3.2" fill="#fff"/><circle cx="595" cy="329.7" r="3.2" fill="#fff"/>
<polygon points="548.0,319.3 539.4,324.2 530.9,319.3 530.9,309.4 539.4,304.4 548.0,309.4" fill="#dddddd" stroke="#e4e4e4" stroke-width="0.8" stroke-linejoin="round"/>
<polygon points="565.1,319.3 556.6,324.2 548.0,319.3 548.0,309.4 556.6,304.4 565.1,309.4" fill="#dddddd" stroke="#e4e4e4" stroke-width="0.8" stroke-linejoin="round"/>
<polygon points="539.4,334.1 530.9,339.1 522.3,334.1 522.3,324.2 530.9,319.3 539.4,324.2" fill="#dddddd" stroke="#e4e4e4" stroke-width="0.8" stroke-linejoin="round"/>
<polygon points="556.6,334.1 548.0,339.1 539.4,334.1 539.4,324.2 548.0,319.3 556.6,324.2" fill="#dddddd" stroke="#e4e4e4" stroke-width="0.8" stroke-linejoin="round"/>
<polygon points="573.7,334.1 565.1,339.1 556.6,334.1 556.6,324.2 565.1,319.3 573.7,324.2" fill="#dddddd" stroke="#e4e4e4" stroke-width="0.8" stroke-linejoin="round"/>
<polygon points="548.0,349.0 539.4,353.9 530.9,349.0 530.9,339.1 539.4,334.2 548.0,339.1" fill="#dddddd" stroke="#e4e4e4" stroke-width="0.8" stroke-linejoin="round"/>
<polygon points="565.1,349.0 556.6,353.9 548.0,349.0 548.0,339.1 556.6,334.2 565.1,339.1" fill="#dddddd" stroke="#e4e4e4" stroke-width="0.8" stroke-linejoin="round"/>
<rect x="536.5" y="361" width="7" height="6" fill="#f6d66a"/><rect x="544.6" y="361" width="7" height="6" fill="#f6d66a"/><rect x="552.7" y="361" width="7" height="6" fill="#f6d66a"/>
<ellipse cx="717" cy="298.3" rx="29" ry="16" fill="#f1eded" stroke="#cfcaca" stroke-width="0.8"/>
<rect x="697" y="282.6" width="41.8" height="32" rx="9" fill="#6b2e63"/>
<rect x="703.3" y="286.8" width="28.5" height="22" fill="#f4efe9"/>
<rect x="708" y="309" width="5" height="3.5" fill="#f4efe9"/><rect x="722" y="309" width="5" height="3.5" fill="#f4efe9"/>
<rect x="709.5" y="291" width="2.5" height="16" fill="#d6cdb8"/><rect x="723" y="291" width="2.5" height="16" fill="#d6cdb8"/>
<circle cx="697.8" cy="298" r="3.6" fill="#9fd67a"/><circle cx="737" cy="298.6" r="3.6" fill="#9fd67a"/>
<rect x="674.2" y="351.7" width="75.8" height="98" fill="#202020"/>
<circle cx="680.8" cy="357.5" r="3.6" fill="#fff"/>
<circle cx="744.6" cy="357.5" r="3.6" fill="#fff"/>
<circle cx="680" cy="443.4" r="3.6" fill="#fff"/>
<circle cx="744.4" cy="443.4" r="3.6" fill="#fff"/>
<rect x="689.2" y="357.5" width="50.8" height="78.3" fill="#4a87d6"/>
<rect x="689.2" y="357.5" width="50.8" height="15" fill="#3f7bc9"/>
<circle cx="698.3" cy="365" r="5.2" fill="#a9cc3c"/><circle cx="698.3" cy="365" r="3.4" fill="#d2c060"/>
<circle cx="714.7" cy="365" r="5.2" fill="#a9cc3c"/><circle cx="714.7" cy="365" r="3.4" fill="#d2c060"/>
<circle cx="731.7" cy="365" r="5.2" fill="#a9cc3c"/><circle cx="731.7" cy="365" r="3.4" fill="#d2c060"/>
<rect x="706" y="360" width="1.6" height="10" fill="#1a3c6e"/><rect x="722.8" y="360" width="1.6" height="10" fill="#1a3c6e"/>
<rect x="679.5" y="374" width="8" height="21" fill="#111" stroke="#ddd" stroke-width="0.8"/>
<rect x="679.5" y="374" width="8" height="4" fill="#ddd"/>
<circle cx="683.5" cy="370" r="2" fill="none" stroke="#666" stroke-width="0.7"/>
<circle cx="683.5" cy="399" r="2" fill="none" stroke="#666" stroke-width="0.7"/>
<rect x="680.5" y="410" width="6" height="5" fill="none" stroke="#ccc" stroke-width="0.7"/>
<rect x="679.5" y="424" width="6.5" height="12" fill="#111" stroke="#ddd" stroke-width="0.8"/>
<rect x="698.5" y="439.4" width="9" height="3.8" fill="#e6e6e6"/>
<rect x="710.5" y="439.2" width="25.5" height="8.6" fill="none" stroke="#d8d8d8" stroke-width="1.1"/>
<path d="M719 439.2V447.8M727.5 439.2V447.8" stroke="#d8d8d8" stroke-width="1"/>
<path d="M715.1 443V458M723.5 443V458M731.8 443V458" stroke="#5fb55f" stroke-width="2.4"/>
<path d="M465 390 H548.1 V362" fill="none" stroke="#28a845" stroke-width="3.6"/>
<path d="M540.3 363 V490 H356.25 V532" fill="none" stroke="#151515" stroke-width="3.4"/>
<path d="M556.1 363 V498.1 H364.6 V540" fill="none" stroke="#a51b1b" stroke-width="3.4"/>
<path d="M715.1 457.5 V506.8 H373.1 V540" fill="none" stroke="#a51b1b" stroke-width="3.4"/>
<path d="M723.5 457.5 V515.2 H381.5 V532" fill="none" stroke="#151515" stroke-width="3.4"/>
<path d="M328.5 466 V506.9 H323.1 V540" fill="none" stroke="#a51b1b" stroke-width="3.4"/>
<path d="M336.5 466 V515 H331.5 V532" fill="none" stroke="#151515" stroke-width="3.4"/>
<path d="M697.8 298 V264.6 H715 V260" fill="none" stroke="#151515" stroke-width="3.5"/>
<path d="M722.8 260 V264.6 H758.9 V340 H731.8 V365" fill="none" stroke="#a51b1b" stroke-width="3.9"/>
<path d="M737 298.6 V323 H715 V365" fill="none" stroke="#a51b1b" stroke-width="3.9"/>
<path d="M715 256.5V260.5M722.8 256.5V260.5" stroke="#9aaa9a" stroke-width="2"/>
<circle cx="715" cy="162.5" r="35" fill="#e6e6e6"/>
<polygon points="712.6,134.6 715.8,134.5 719.1,134.8 722.2,135.5 725.3,136.5 728.3,137.9 731.1,139.6 733.6,141.6 735.9,143.9 737.9,146.4 739.6,149.2 741.0,152.2 742.0,155.3 720.7,158.5 720.5,158.2 720.3,157.9 720.1,157.7 719.8,157.4 719.5,157.2 719.3,156.9 719.0,156.7 718.7,156.5 718.4,156.4 718.1,156.2 717.7,156.1 717.4,155.9" fill="#1b1b1b"/>
<polygon points="690.8,176.5 689.2,173.4 688.1,170.1 687.3,166.8 687.0,163.3 687.1,159.9 687.7,156.4 688.6,153.1 690.0,149.9 691.7,146.9 693.8,144.2 696.2,141.7 698.9,139.6 709.3,158.5 709.0,158.8 708.8,159.2 708.7,159.5 708.5,159.9 708.4,160.3 708.2,160.7 708.1,161.1 708.1,161.5 708.0,161.9 708.0,162.3 708.0,162.7 708.0,163.1" fill="#1b1b1b"/>
<polygon points="737.9,178.6 735.9,181.1 733.6,183.4 731.1,185.4 728.3,187.1 725.3,188.5 722.2,189.5 719.1,190.2 715.8,190.5 712.6,190.4 709.3,189.9 706.2,189.1 703.2,187.9 713.8,169.4 714.2,169.5 714.7,169.5 715.2,169.5 715.6,169.5 716.1,169.4 716.5,169.3 717.0,169.2 717.4,169.1 717.8,168.9 718.2,168.7 718.6,168.5 719.0,168.2" fill="#1b1b1b"/>
<path d="M724.00 162.50L749.00 162.50M723.95 163.44L748.81 166.05M723.80 164.37L748.26 169.57M723.56 165.28L747.34 173.01M723.22 166.16L746.06 176.33M722.79 167.00L744.44 179.50M722.28 167.79L742.51 182.48M721.69 168.52L740.27 185.25M721.02 169.19L737.75 187.77M720.29 169.78L734.98 190.01M719.50 170.29L732.00 191.94M718.66 170.72L728.83 193.56M717.78 171.06L725.51 194.84M716.87 171.30L722.07 195.76M715.94 171.45L718.55 196.31M715.00 171.50L715.00 196.50M714.06 171.45L711.45 196.31M713.13 171.30L707.93 195.76M712.22 171.06L704.49 194.84M711.34 170.72L701.17 193.56M710.50 170.29L698.00 191.94M709.71 169.78L695.02 190.01M708.98 169.19L692.25 187.77M708.31 168.52L689.73 185.25M707.72 167.79L687.49 182.48M707.21 167.00L685.56 179.50M706.78 166.16L683.94 176.33M706.44 165.28L682.66 173.01M706.20 164.37L681.74 169.57M706.05 163.44L681.19 166.05M706.00 162.50L681.00 162.50M706.05 161.56L681.19 158.95M706.20 160.63L681.74 155.43M706.44 159.72L682.66 151.99M706.78 158.84L683.94 148.67M707.21 158.00L685.56 145.50M707.72 157.21L687.49 142.52M708.31 156.48L689.73 139.75M708.98 155.81L692.25 137.23M709.71 155.22L695.02 134.99M710.50 154.71L698.00 133.06M711.34 154.28L701.17 131.44M712.22 153.94L704.49 130.16M713.13 153.70L707.93 129.24M714.06 153.55L711.45 128.69M715.00 153.50L715.00 128.50M715.94 153.55L718.55 128.69M716.87 153.70L722.07 129.24M717.78 153.94L725.51 130.16M718.66 154.28L728.83 131.44M719.50 154.71L732.00 133.06M720.29 155.22L734.98 134.99M721.02 155.81L737.75 137.23M721.69 156.48L740.27 139.75M722.28 157.21L742.51 142.52M722.79 158.00L744.44 145.50M723.22 158.84L746.06 148.67M723.56 159.72L747.34 151.99M723.80 160.63L748.26 155.43M723.95 161.56L748.81 158.95" stroke="#141414" stroke-width="0.75"/>
<circle cx="715" cy="162.5" r="12.5" fill="none" stroke="#141414" stroke-width="0.9"/>
<circle cx="715" cy="162.5" r="16.5" fill="none" stroke="#141414" stroke-width="0.9"/>
<circle cx="715" cy="162.5" r="20.5" fill="none" stroke="#141414" stroke-width="0.9"/>
<circle cx="715" cy="162.5" r="24.5" fill="none" stroke="#141414" stroke-width="0.9"/>
<circle cx="715" cy="162.5" r="28.5" fill="none" stroke="#141414" stroke-width="0.9"/>
<circle cx="715" cy="162.5" r="31.8" fill="none" stroke="#141414" stroke-width="0.9"/>
<circle cx="715" cy="162.5" r="34.3" fill="none" stroke="#101010" stroke-width="2.6"/>
<circle cx="715" cy="162.5" r="9" fill="#6a6a6a"/>
<circle cx="715" cy="162.5" r="5.8" fill="#121212"/>
<path d="M710.7 196 H718.3 L718.8 221 H710.2 Z" fill="#141414"/>
<path d="M705.5 219.5 Q714.5 217.5 723.3 219.5 Q731 230 736.7 245 Q714.5 252 692.2 245 Q698 230 705.5 219.5 Z" fill="#141414"/>
<circle cx="710.6" cy="226.8" r="1.45" fill="#d0d0d0"/><circle cx="714.4" cy="226.8" r="1.45" fill="#d0d0d0"/><circle cx="718.2" cy="226.8" r="1.45" fill="#d0d0d0"/>
<path d="M776.1 266.7 H831.7 L837.2 272.8 V326.1 H776.1Z" fill="#fcead0"/>
<path d="M831.7 266.7 L837.2 272.8 H831.7Z" fill="#f2cd86"/>
<rect x="776.1" y="320" width="61.1" height="6.1" fill="#f0b84a"/>
<text x="782.6" y="283.3" font-size="10.6" fill="#2a2a2a" textLength="40.8" lengthAdjust="spacingAndGlyphs">240V AC</text>
<text x="782.6" y="296.3" font-size="10.6" fill="#2a2a2a" textLength="31.2" lengthAdjust="spacingAndGlyphs">Power</text>
<text x="782.6" y="309.4" font-size="10.6" fill="#2a2a2a" textLength="33.8" lengthAdjust="spacingAndGlyphs">Supply</text>
<path d="M775 356.2 H852 L858.1 362 V428.1 H775Z" fill="#fcead0"/>
<path d="M852 356.2 L858.1 362 H852Z" fill="#f2cd86"/>
<rect x="775" y="422" width="83.1" height="6.1" fill="#f0b84a"/>
<text x="781.2" y="372.5" font-size="10.7" fill="#2a2a2a" textLength="61.8" lengthAdjust="spacingAndGlyphs">RELAY 5 VDC</text>
<text x="781.2" y="385.6" font-size="10.7" fill="#2a2a2a" textLength="18.8" lengthAdjust="spacingAndGlyphs">VCC</text>
<text x="806.8" y="385.6" font-size="10.7" fill="#2a2a2a" textLength="41.3" lengthAdjust="spacingAndGlyphs">= Merah</text>
<text x="781.2" y="398.7" font-size="10.7" fill="#2a2a2a" textLength="22.5" lengthAdjust="spacingAndGlyphs">GND</text>
<text x="807.2" y="398.7" font-size="10.7" fill="#2a2a2a" textLength="38.4" lengthAdjust="spacingAndGlyphs">= Hitam</text>
<text x="781.2" y="411.9" font-size="10.7" fill="#2a2a2a" textLength="10" lengthAdjust="spacingAndGlyphs">IN</text>
<text x="806.8" y="411.9" font-size="10.7" fill="#2a2a2a" textLength="43.8" lengthAdjust="spacingAndGlyphs">= Kuning</text>
<path d="M860 508.7 L778 461.5" stroke="#262626" stroke-width="6"/><polygon points="763.1,451.5 783.5,451.9 772.5,469.6" fill="#262626"/>
<polygon points="872.8,512.9 928.8,571.6 1097,440.1 1091,431 1040,390 921.2,477.7" fill="#183f72"/>
<polygon points="872.8,512.9 928.8,571.6 931,575 874,517.5" fill="#2a7aa8"/>
<polygon points="928.8,571.6 1097,440.1 1098,445 931,575" fill="#2a84a4"/>
<polygon points="878.3,512.9 925.7,561.8 960.9,534.3 918.1,482.3" fill="#1c4680"/>
<polygon points="926.4,431.7 980.6,483.6 983.3,523.9 930.6,476.7" fill="#3b7bd0"/>
<polygon points="980.6,483.6 1054.2,429.4 1056.9,469.7 983.3,523.9" fill="#3a7ad3"/>
<polygon points="926.4,431.7 998.6,378.1 1054.2,429.4 980.6,483.6" fill="#4a8fe3"/>
<polygon points="927.8,454.4 980.6,498.9 983.3,523.9 930.6,476.7" fill="#3470c4"/>
<polygon points="997.2,377.2 1011.1,380.8 1055.6,430.8" fill="#3f82d8"/>
<polygon points="1011.1,380.8 1029.2,371.7 1086.7,426.7 1087.8,435.6 1058.3,469.7 1054.2,429.4" fill="#3b7fd8"/>
<polygon points="1054.2,429.4 1086.7,426.7 1087.8,435.6 1058.3,469.7" fill="#2f6cc2"/>
<polygon points="1087.8,435.6 1097,440.1 1060,469 1058.3,469.7" fill="#2c6cbc"/>
<circle cx="1029.2" cy="387.5" r="7.6" fill="#142f78"/><circle cx="1029.2" cy="387.5" r="4.8" fill="#a8905a"/><circle cx="1029.2" cy="387.5" r="2.2" fill="#6a5630"/>
<circle cx="1045.8" cy="404.2" r="7.6" fill="#142f78"/><circle cx="1045.8" cy="404.2" r="4.8" fill="#a8905a"/><circle cx="1045.8" cy="404.2" r="2.2" fill="#6a5630"/>
<circle cx="1064.2" cy="419.2" r="7.6" fill="#142f78"/><circle cx="1064.2" cy="419.2" r="4.8" fill="#a8905a"/><circle cx="1064.2" cy="419.2" r="2.2" fill="#6a5630"/>
<path d="M1030.6,398.9 L1047.2,389.2 M1048.6,416.9 L1066.7,404.4" stroke="#1c3f8c" stroke-width="2.4"/>
<g transform="translate(952.8 425.3) rotate(-38)" fill="#d6e6fb" font-family="Liberation Sans">
<text x="0" y="0" font-size="8" textLength="56" lengthAdjust="spacingAndGlyphs">TONGLING</text>
<text x="36" y="10.5" font-size="7.5" textLength="24" lengthAdjust="spacingAndGlyphs">5VDC</text>
<text x="12" y="20" font-size="6.8" textLength="52" lengthAdjust="spacingAndGlyphs">10A 250VAC</text>
<text x="10" y="29" font-size="6.8" textLength="54" lengthAdjust="spacingAndGlyphs">15A 125VAC</text>
<text x="14" y="38" font-size="6.8" textLength="52" lengthAdjust="spacingAndGlyphs">10A 250VAC</text>
<text x="-3" y="50" font-size="9.5" textLength="69" lengthAdjust="spacingAndGlyphs">JQC-3FF-S-Z</text>
<text x="-14" y="4" font-size="9" font-weight="bold">A</text>
<polygon points="-8,20 -2,20 -5,14" fill="none" stroke="#d6e6fb" stroke-width="1"/>
<circle cx="-4" cy="40" r="3" fill="none" stroke="#d6e6fb" stroke-width="0.9"/>
</g>
<g transform="translate(906.3 487.8) rotate(-37)">
<rect x="0" y="0" width="14" height="8" fill="#2a3f66" stroke="#d8e2f0" stroke-width="1.2"/><rect x="3" y="2" width="8" height="4" fill="#8a2a22"/>
<rect x="-2" y="15" width="16" height="9" fill="#24375a" stroke="#d8e2f0" stroke-width="1.3"/><rect x="1.5" y="17" width="9" height="5" fill="#3a3430"/>
<rect x="-1" y="30.5" width="16" height="9" fill="#24375a" stroke="#d8e2f0" stroke-width="1.3"/><rect x="2.5" y="32.5" width="9" height="5" fill="#3a3430"/>
<rect x="0.5" y="46" width="16" height="9" fill="#24375a" stroke="#d8e2f0" stroke-width="1.3"/><rect x="4.0" y="48" width="9" height="5" fill="#3a3430"/>
</g>
<polygon points="897,512 922,527 925,545 899,531" fill="#2a2522"/>
<path d="M903.5 498 L904.5 531 M911 502.5 L912 536 M918.5 507 L919.5 540.5" stroke="#5e5550" stroke-width="5"/>
<path d="M902.5 498 L903.5 531 M910 502.5 L911 536 M917.5 507 L918.5 540.5" stroke="#b8b0aa" stroke-width="1.4"/>
<ellipse cx="957.9" cy="534.3" rx="7" ry="5" fill="#1a1a1a" transform="rotate(-37 957.9 534.3)"/>
<ellipse cx="889" cy="508.5" rx="9" ry="11.5" transform="rotate(-25 889 508.5)" fill="#62c95a"/><ellipse cx="886.5" cy="503" rx="4.5" ry="5" fill="#9fe68f"/>
<ellipse cx="931.8" cy="548.6" rx="9.5" ry="12.5" transform="rotate(-25 931.8 548.6)" fill="#d92626"/><ellipse cx="929" cy="543" rx="4.5" ry="5" fill="#f06a6a"/>
<text transform="translate(890.6 523.6) rotate(42)" font-size="5.5" fill="#dde6f2">VCC GND IN</text>
<text transform="translate(942.6 543.5) rotate(42)" font-size="5.5" fill="#dde6f2">PWR</text>
<rect x="696" y="5" width="8" height="2" fill="#e4e4e4"/><rect x="752" y="16" width="8" height="2" fill="#e8f0b0"/><text x="0" y="0" font-size="38" letter-spacing="0.3" fill="#111" transform="translate(622.9 85.6) rotate(-9.5)">kipas angin ac</text>
</svg>
</body></html>
